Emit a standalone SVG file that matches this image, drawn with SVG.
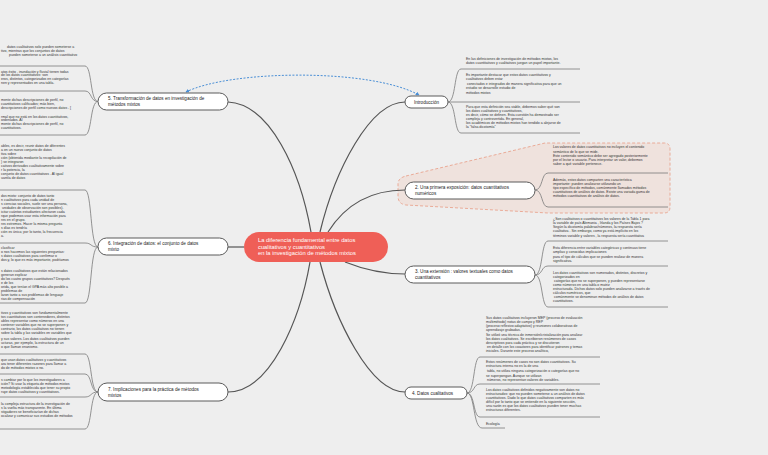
<svg xmlns="http://www.w3.org/2000/svg" width="768" height="455" viewBox="0 0 768 455">
<defs>
<style>
.bg{fill:#eeeeee}
.node rect{fill:#ffffff;stroke:#5a5a5a;stroke-width:1}
.nt{font-family:"Liberation Sans",Arial,sans-serif;font-size:4.6px;fill:#222}
.it{font-family:"Liberation Sans",Arial,sans-serif;font-size:3.5px;fill:#333}
.ct{font-family:"Liberation Sans",Arial,sans-serif;font-size:5.8px;fill:#ffffff}
.conn path{fill:none;stroke:#555;stroke-width:1.2}
.br{fill:none;stroke:#7a7a7a;stroke-width:0.8}
.rel{fill:none;stroke:#4a8fd6;stroke-width:1;stroke-dasharray:2 1.5}
</style>
<marker id="ah" viewBox="0 0 6 6" refX="5" refY="3" markerWidth="4" markerHeight="4" orient="auto-start-reverse">
<path d="M0,0 L6,3 L0,6 z" fill="#4a8fd6"/>
</marker>
</defs>
<rect class="bg" x="0" y="0" width="768" height="455"/>

<!-- boundary around node 2 -->
<path id="boundary" d="M406,176 L545,143 L664,143 Q670,143 670,149 L670,207 Q670,213 664,213 L548,213 L406,205 Q398,204 398,196 L398,184 Q398,178 406,176 Z" fill="#efe2dd" stroke="#e9a48f" stroke-width="0.9" stroke-dasharray="3 2"/>

<g id="connectors" class="conn">
<path d="M228,102 C270,104 300,170 311,232"/>
<path d="M320,232 C335,170 370,102 405,102"/>
<path d="M328,232 C345,205 370,190 405,190"/>
<path d="M244,247 H228"/>
<path d="M345,262 C370,272 390,274 405,274"/>
<path d="M310,262 C300,320 270,392 228,392"/>
<path d="M320,262 C335,320 370,392 405,392"/>
</g>

<!-- relationship -->
<path class="rel" d="M186,92 C230,70 370,68 419,95" marker-start="url(#ah)" marker-end="url(#ah)"/>

<!-- center -->
<g id="center">
<rect x="244" y="232" width="144" height="30" rx="15" fill="#ef5f57"/>
<text class="ct"><tspan x="258" y="242.3">La diferencia fundamental entre datos</tspan><tspan x="258" y="248.6">cualitativos y cuantitativos</tspan><tspan x="258" y="254.9">en la investigación de métodos mixtos</tspan></text>
</g>

<!-- Introducción -->
<g id="intro" class="node">
<rect x="405" y="96" width="43" height="12" rx="6"/>
<text class="nt" x="426.5" y="103.6" text-anchor="middle">Introducción</text>
<path class="br" d="M448,102 C456,102 454,69 461,69 H580"/>
<path class="br" d="M448,102 H580"/>
<path class="br" d="M448,102 C456,102 454,133 461,133 H580"/>
<text class="it"><tspan x="466" y="60">En las definiciones de investigación de métodos mixtos, los</tspan><tspan x="466" y="64.2">datos cuantitativos y cualitativos juegan un papel importante.</tspan></text>
<text class="it"><tspan x="466" y="76">Es importante destacar que estos datos cuantitativos y</tspan><tspan x="466" y="80">cualitativos deben estar</tspan><tspan x="466" y="84.5"> conectados e integrados de manera significativa para que un</tspan><tspan x="466" y="88.5">estudio se desarrolle estudio de</tspan><tspan x="466" y="94">métodos mixtos</tspan></text>
<text class="it"><tspan x="466" y="108">Para que esta definición sea viable, debemos saber qué son</tspan><tspan x="466" y="112">los datos cualitativos y cuantitativos,</tspan><tspan x="466" y="116">es decir, cómo se definen. Esta cuestión ha demostrado ser</tspan><tspan x="466" y="120">compleja y controvertida. En general,</tspan><tspan x="466" y="124">los académicos de métodos mixtos han tendido a alejarse de</tspan><tspan x="466" y="128">la "falsa dicotomía"</tspan></text>
</g>

<!-- 2 -->
<g id="n2" class="node">
<rect x="405" y="182" width="130" height="17" rx="8.5"/>
<text class="nt"><tspan x="415" y="189.3">2. Una primera exposición: datos cuantitativos</tspan><tspan x="415" y="195">numéricos</tspan></text>
<path class="br" d="M535,190 C543,190 541,173 548,173 H668"/>
<path class="br" d="M535,190 C543,190 541,207 548,207 H668"/>
<text class="it"><tspan x="553" y="148">Los valores de datos cuantitativos no incluyen el contenido</tspan><tspan x="553" y="153">semántico de lo que se mide.</tspan><tspan x="553" y="157">Este contenido semántico debe ser agregado posteriormente</tspan><tspan x="553" y="161">por el lector o usuario. Para interpretar un valor, debemos</tspan><tspan x="553" y="165">saber a qué variable pertenece.</tspan></text>
<text class="it"><tspan x="553" y="181">Además, estos datos comparten una característica</tspan><tspan x="553" y="185">importante: pueden analizarse utilizando un</tspan><tspan x="553" y="189">tipo específico de métodos, comúnmente llamados métodos</tspan><tspan x="553" y="193">cuantitativos de análisis de datos. Existe una variada gama de</tspan><tspan x="553" y="197">métodos cuantitativos de análisis de datos.</tspan></text>
</g>

<!-- 3 -->
<g id="n3" class="node">
<rect x="405" y="266" width="130" height="17" rx="8.5"/>
<text class="nt"><tspan x="415" y="273.3">3. Una extensión : valores textuales como datos</tspan><tspan x="415" y="279">cuantitativos</tspan></text>
<path class="br" d="M535,275 C543,275 541,241 548,241 H668"/>
<path class="br" d="M535,275 C543,275 541,266 548,266 H668"/>
<path class="br" d="M535,275 C543,275 541,307 548,307 H668"/>
<text class="it"><tspan x="553" y="220">¿Son cualitativos o cuantitativos los valores de la Tabla 1 para</tspan><tspan x="553" y="224">la variable de país Alemania , Irlanda y los Países Bajos ?</tspan><tspan x="553" y="228">Según la dicotomía palabras/números, la respuesta sería</tspan><tspan x="553" y="232">cualitativa . Sin embargo, como ya está implícito en los</tspan><tspan x="553" y="236.5">términos variable y valores , la respuesta sería cuantitativa</tspan></text>
<text class="it"><tspan x="553" y="249">Esta diferencia entre variables categóricas y continuas tiene</tspan><tspan x="553" y="253">amplias y conocidas implicaciones</tspan><tspan x="553" y="258">para el tipo de cálculos que se pueden realizar de manera</tspan><tspan x="553" y="262">significativa.</tspan></text>
<text class="it"><tspan x="553" y="274">Los datos cuantitativos son numerados, distintos, discretos y</tspan><tspan x="553" y="278">categorizados en</tspan><tspan x="553" y="282"> categorías que no se superponen, y pueden representarse</tspan><tspan x="553" y="286">como números en una tabla o matriz</tspan><tspan x="553" y="290">estructurada. Dichos datos solo pueden analizarse a través de</tspan><tspan x="553" y="294">cálculos numéricos, que</tspan><tspan x="553" y="298"> comúnmente se denominan métodos de análisis de datos</tspan><tspan x="553" y="302">cuantitativos.</tspan></text>
</g>

<!-- 4 -->
<g id="n4" class="node">
<rect x="405" y="387" width="62" height="12" rx="6"/>
<text class="nt" x="412" y="394.5">4. Datos cualitativos</text>
<path class="br" d="M467,393 C475,393 473,357 480,357 H600"/>
<path class="br" d="M467,393 C475,393 473,384 480,384 H600"/>
<path class="br" d="M467,393 C475,393 473,417 480,417 H600"/>
<path class="br" d="M467,393 C475,393 473,428 482,428 H505"/>
<text class="it"><tspan x="486" y="319">Sus datos cualitativos incluyeron MEP (proceso de evaluación</tspan><tspan x="486" y="323">multimétodo) notas de campo y REP</tspan><tspan x="486" y="327">(proceso reflexivo adaptativo) y reuniones colaborativas de</tspan><tspan x="486" y="331">aprendizaje grabadas.</tspan><tspan x="486" y="335.5">Se utilizó una técnica de inmersión/cristalización para analizar</tspan><tspan x="486" y="339.5">los datos cualitativos. Se escribieron resúmenes de casos</tspan><tspan x="486" y="343.5">descriptivos para cada práctica y se discutieron</tspan><tspan x="486" y="347.5"> en detalle con los coautores para identificar patrones y temas</tspan><tspan x="486" y="351.5">iniciales. Durante este proceso analítico,</tspan></text>
<text class="it"><tspan x="486" y="363">Estos resúmenes de casos no son datos cuantitativos. Su</tspan><tspan x="486" y="367">estructura interna no es la de una</tspan><tspan x="486" y="372"> tabla, no utiliza ninguna categorización o categorías que no</tspan><tspan x="486" y="377">se superpongan. Aunque se utilizan</tspan><tspan x="486" y="381"> números, no representan valores de variables.</tspan></text>
<text class="it"><tspan x="486" y="391">Los datos cualitativos definidos negativamente son datos no</tspan><tspan x="486" y="395">estructurados: que no pueden someterse a un análisis de datos</tspan><tspan x="486" y="399">cuantitativos. Dado lo que datos cualitativos comparten es más</tspan><tspan x="486" y="403">difícil por lo tanto que se entiende en la siguiente sección,</tspan><tspan x="486" y="407">una razón es que los datos cualitativos pueden tener muchas</tspan><tspan x="486" y="411">estructuras diferentes.</tspan></text>
<text class="it" x="486" y="425">Ecología</text>
</g>

<!-- 5 -->
<g id="n5" class="node">
<rect x="98" y="93" width="130" height="17" rx="8.5"/>
<text class="nt"><tspan x="108" y="100.3">5. Transformación de datos en investigación de</tspan><tspan x="108" y="106">métodos mixtos</tspan></text>
<path class="br" d="M98,101.5 C90,101.5 92,66 85,66 H0"/>
<path class="br" d="M98,101.5 C90,101.5 92,91 85,91 H0"/>
<path class="br" d="M98,101.5 C90,101.5 92,135 85,135 H0"/>
<text class="it"><tspan x="7" y="48">datos cualitativos solo pueden someterse a</tspan><tspan x="1" y="52">tivo, mientras que los conjuntos de datos</tspan><tspan x="9" y="56">pueden someterse a un análisis cuantitativo</tspan></text>
<text class="it"><tspan x="1" y="72.5">atos éxito , inundación y fluvial tienen todas</tspan><tspan x="1" y="76">de los datos cuantitativos: son</tspan><tspan x="1" y="80">eros, distintos, categorizados en categorías</tspan><tspan x="1" y="84">nen y representados en una tabla.</tspan></text>
<text class="it"><tspan x="1" y="101">mente dichas descripciones de perfil, no</tspan><tspan x="1" y="105">cuantitativos calificados; más bien,</tspan><tspan x="1" y="109">descripciones de perfil como nuevos datos . [</tspan><tspan x="1" y="117.5">rmal que no está en los datos cuantitativos,</tspan><tspan x="1" y="121">ordenados. Al</tspan><tspan x="1" y="125">mente dichas descripciones de perfil, no</tspan><tspan x="1" y="129">cuantitativos.</tspan></text>
</g>

<!-- 6 -->
<g id="n6" class="node">
<rect x="98" y="238" width="130" height="17" rx="8.5"/>
<text class="nt"><tspan x="108" y="245.3">6. Integración de datos: el conjunto de datos</tspan><tspan x="108" y="251">mixto</tspan></text>
<path class="br" d="M98,247 C90,247 92,190 85,190 H0"/>
<path class="br" d="M98,247 C90,247 92,243 85,243 H0"/>
<path class="br" d="M98,247 C90,247 92,303 85,303 H0"/>
<text class="it"><tspan x="1" y="147">ables, es decir, reunir datos de diferentes</tspan><tspan x="1" y="151">a en un nuevo conjunto de datos</tspan><tspan x="1" y="155">tiva sobre</tspan><tspan x="1" y="159">ción (obtenida mediante la recopilación de</tspan><tspan x="1" y="163">) se integraron</tspan><tspan x="1" y="167">cativos derivados cualitativamente sobre</tspan><tspan x="1" y="171">r la potencia, la</tspan><tspan x="1" y="175">conjunto de datos cuantitativos . Al igual</tspan><tspan x="1" y="179">uantía de datos</tspan></text>
<text class="it"><tspan x="1" y="197">dos mixto: conjunto de datos tanto</tspan><tspan x="1" y="201">n cualitativos para cada unidad de</tspan><tspan x="1" y="205">s ciencias sociales, suele ser una persona,</tspan><tspan x="1" y="209"> unidades de observación son posibles).</tspan><tspan x="1" y="213">icitar cuántos estudiantes afectaron cada</tspan><tspan x="1" y="217">rque podemos usar esta información para</tspan><tspan x="1" y="221">res en el grupo.</tspan><tspan x="1" y="225">res extremos. Hacer la misma pregunta</tspan><tspan x="1" y="229">s días es tendría</tspan><tspan x="1" y="233">ción es única; por lo tanto, la frecuencia</tspan><tspan x="1" y="237">a.</tspan></text>
<text class="it"><tspan x="1" y="249">clasificar</tspan><tspan x="1" y="253">o nos hacemos las siguientes preguntas:</tspan><tspan x="1" y="257">s datos cualitativos para confirmar o</tspan><tspan x="1" y="261">dos y, lo que es más importante, podríamos</tspan><tspan x="1" y="272">s datos cualitativos que están relacionados</tspan><tspan x="1" y="276">generan explicar</tspan><tspan x="1" y="280">do los cuatro grupos cuantitativos? Después</tspan><tspan x="1" y="284">e de los</tspan><tspan x="1" y="288">orida, que tenían el GPA más alto posible a</tspan><tspan x="1" y="292">problemas de</tspan><tspan x="1" y="296">laron tanto a sus problemas de lenguaje</tspan><tspan x="1" y="300">rias de compensación</tspan></text>
</g>

<!-- 7 -->
<g id="n7" class="node">
<rect x="98" y="383" width="130" height="18" rx="9"/>
<text class="nt"><tspan x="108" y="390.8">7. Implicaciones para la práctica de métodos</tspan><tspan x="108" y="396.5">mixtos</tspan></text>
<path class="br" d="M98,392 C90,392 92,354 85,354 H0"/>
<path class="br" d="M98,392 C90,392 92,374 85,374 H0"/>
<path class="br" d="M98,392 C90,392 92,397 85,397 H0"/>
<path class="br" d="M98,392 C90,392 92,429 85,429 H0"/>
<text class="it"><tspan x="1" y="314">tivos y cuantitativos son fundamentalmente</tspan><tspan x="1" y="318">tos cuantitativos son contenedores, distintos</tspan><tspan x="1" y="322">ables representar como números en una</tspan><tspan x="1" y="326">contener variables que no se superponen y</tspan><tspan x="1" y="330">contrario, los datos cualitativos no tienen</tspan><tspan x="1" y="334">sobre la tabla y las variables en variables que</tspan><tspan x="1" y="340">y sus valores. Los datos cualitativos pueden</tspan><tspan x="1" y="344">ucturas, por ejemplo, la estructura de un</tspan><tspan x="1" y="348">o que llaman enanismo.</tspan></text>
<text class="it"><tspan x="1" y="361">que usan datos cualitativos y cuantitativos</tspan><tspan x="1" y="365">ara tener diferentes razones para llamar a</tspan><tspan x="1" y="369">do de métodos mixtos o no.</tspan></text>
<text class="it"><tspan x="1" y="381">s cambiar por lo que los investigadores a</tspan><tspan x="1" y="385">ición? Si usar la etiqueta de métodos mixtos</tspan><tspan x="1" y="389">metodología establecida que tener su propio</tspan><tspan x="1" y="393">ruye datos cualitativos y cuantitativos.</tspan></text>
<text class="it"><tspan x="1" y="405">la compleja estructura de la investigación de</tspan><tspan x="1" y="409">s la vuelta más transparente. En última</tspan><tspan x="1" y="413">stigadores se beneficiarían de dichas</tspan><tspan x="1" y="417">ocalizar y comunicar sus estudios de métodos</tspan></text>
</g>
</svg>
